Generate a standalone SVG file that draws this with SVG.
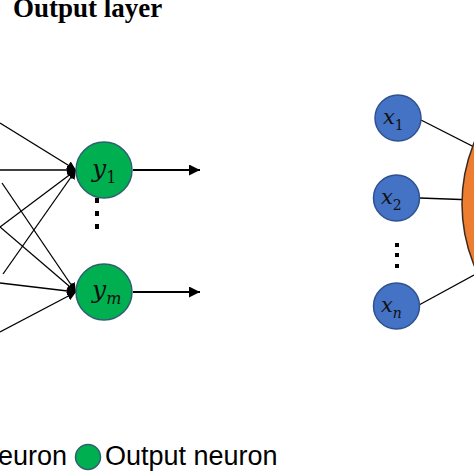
<svg xmlns="http://www.w3.org/2000/svg" width="474" height="474" viewBox="0 0 474 474">
<defs>
<marker id="ah" viewBox="0 0 10 10" refX="10" refY="5" markerWidth="9" markerHeight="9" markerUnits="userSpaceOnUse" orient="auto">
<path d="M0,0 L10,5 L0,10 z" fill="#000"/>
</marker>
<marker id="ah2" viewBox="0 0 10 10" refX="10" refY="5" markerWidth="5" markerHeight="5" orient="auto">
<path d="M0,0 L10,5 L0,10 z" fill="#000"/>
</marker>
</defs>
<style>
.ln{stroke:#000;stroke-width:1.3;fill:none}
.out{stroke:#000;stroke-width:2.2;fill:none}
.g{fill:#00B050;stroke:#2E6070;stroke-width:1.5}
.b{fill:#4472C4;stroke:#2F528F;stroke-width:1.5}
.m{font-family:"DejaVu Serif",serif;font-style:italic;fill:#111}
.dot{fill:#000}
</style>
<rect width="474" height="474" fill="#fff"/>
<text x="13" y="17" font-family="Liberation Serif,serif" font-weight="bold" font-size="27" fill="#000">Output layer</text>
<g id="connectors">
<line class="ln" x1="0" y1="123" x2="76" y2="170" marker-end="url(#ah)"/>
<line class="ln" x1="0" y1="170" x2="76" y2="170" marker-end="url(#ah)"/>
<line class="ln" x1="2" y1="183" x2="76" y2="292" marker-end="url(#ah)"/>
<line class="ln" x1="0" y1="227" x2="76" y2="170" marker-end="url(#ah)"/>
<line class="ln" x1="0" y1="227" x2="76" y2="292" marker-end="url(#ah)"/>
<line class="ln" x1="3" y1="274" x2="76" y2="170" marker-end="url(#ah)"/>
<line class="ln" x1="0" y1="283" x2="76" y2="292" marker-end="url(#ah)"/>
<line class="ln" x1="0" y1="332" x2="76" y2="292" marker-end="url(#ah)"/>
<line class="out" x1="133" y1="170" x2="200" y2="170" marker-end="url(#ah2)"/>
<line class="out" x1="133" y1="292" x2="200" y2="292" marker-end="url(#ah2)"/>
<line class="ln" x1="421" y1="120" x2="474" y2="147"/>
<line class="ln" x1="420" y1="198" x2="474" y2="200"/>
<line class="ln" x1="419" y1="305" x2="474" y2="275"/>
</g>
<g id="y1">
<circle class="g" cx="104" cy="170" r="28"/>
<text class="m" x="92" y="177" font-size="25">y<tspan font-size="16" font-style="normal" dy="6">1</tspan></text>
</g>
<g id="ydots">
<rect class="dot" x="95" y="198" width="4" height="5"/>
<rect class="dot" x="95" y="211" width="4" height="5"/>
<rect class="dot" x="95" y="224" width="4" height="5"/>
</g>
<g id="ym">
<circle class="g" cx="104" cy="292" r="28"/>
<text class="m" x="92" y="298" font-size="25">y<tspan font-size="16" dy="6">m</tspan></text>
</g>
<g id="x1">
<circle class="b" cx="398" cy="118" r="23"/>
<text class="m" x="383" y="124" font-size="21">x<tspan font-size="14" font-style="normal" dy="6">1</tspan></text>
</g>
<g id="x2">
<circle class="b" cx="396.5" cy="198" r="23"/>
<text class="m" x="381" y="204" font-size="21">x<tspan font-size="14" font-style="normal" dy="6">2</tspan></text>
</g>
<g id="xdots">
<rect class="dot" x="395" y="243" width="4" height="4"/>
<rect class="dot" x="395" y="253" width="4" height="4"/>
<rect class="dot" x="395" y="264" width="4" height="4"/>
</g>
<g id="xn">
<circle class="b" cx="396.5" cy="306" r="23"/>
<text class="m" x="381" y="312" font-size="21">x<tspan font-size="14" dy="6">n</tspan></text>
</g>
<g id="neuron">
<circle cx="623" cy="204" r="161" fill="#ED7D31" stroke="#3A2A20" stroke-width="1.5"/>
</g>
<g id="legend">
<text x="67" y="465" text-anchor="end" font-family="Liberation Sans,sans-serif" font-size="27" fill="#000">euron</text>
<circle class="g" cx="88" cy="457" r="12.5"/>
<text x="105" y="465" font-family="Liberation Sans,sans-serif" font-size="27" fill="#000">Output neuron</text>
</g>
</svg>
